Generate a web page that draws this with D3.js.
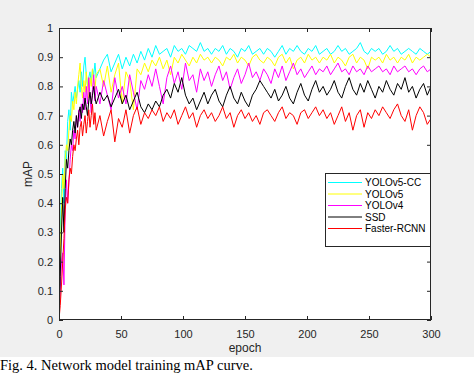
<!DOCTYPE html>
<html>
<head>
<meta charset="utf-8">
<script src="https://cdn.jsdelivr.net/npm/d3@7"></script>
<style>
  body { margin: 0; background: #fff; }
  svg { display: block; }
</style>
</head>
<body>
<div id="chart"></div>
<script>
// epochs sampled: every epoch up to 30, then every 3rd
const epochs = d3.range(0, 31).concat(d3.range(33, 301, 3));

const yolov5cc = [
  0.02,0.30,0.45,0.52,0.40,0.58,0.55,0.68,0.72,0.65,0.78,0.74,0.77,0.80,0.76,0.79,0.82,0.78,0.85,0.80,0.87,0.90,0.84,0.80,0.83,0.85,0.81,0.86,0.84,0.88,0.83,
  0.86,0.89,0.91,0.85,0.88,0.91,0.86,0.90,0.87,0.91,0.88,0.92,0.89,0.93,0.90,
  0.94,0.91,0.92,0.93,0.90,0.94,0.92,0.93,0.91,0.94,0.93,0.92,0.95,0.92,0.93,
  0.91,0.93,0.92,0.94,0.91,0.93,0.92,0.90,0.93,0.92,0.94,0.91,0.92,0.93,0.91,
  0.93,0.92,0.90,0.92,0.94,0.91,0.93,0.92,0.94,0.92,0.91,0.93,0.92,0.94,0.91,
  0.92,0.93,0.91,0.92,0.94,0.92,0.93,0.91,0.92,0.93,0.95,0.92,0.91,0.93,0.92,
  0.93,0.91,0.92,0.94,0.92,0.93,0.91,0.92,0.93,0.92,0.91,0.93,0.92,0.91,0.92
];
const yolov5 = [
  0.00,0.22,0.38,0.50,0.45,0.55,0.60,0.58,0.65,0.70,0.68,0.75,0.72,0.78,0.74,0.80,0.84,0.88,0.80,0.76,0.82,0.78,0.85,0.80,0.76,0.83,0.80,0.86,0.82,0.79,0.84,
  0.86,0.80,0.87,0.78,0.84,0.88,0.74,0.85,0.82,0.72,0.86,0.84,0.88,0.85,0.89,
  0.87,0.90,0.86,0.89,0.84,0.90,0.88,0.91,0.89,0.87,0.90,0.88,0.91,0.89,0.90,
  0.88,0.90,0.89,0.87,0.90,0.89,0.91,0.88,0.90,0.89,0.87,0.90,0.91,0.89,0.88,
  0.90,0.89,0.87,0.90,0.91,0.88,0.90,0.86,0.89,0.90,0.88,0.91,0.89,0.90,0.88,
  0.90,0.89,0.91,0.88,0.90,0.89,0.87,0.90,0.91,0.88,0.90,0.89,0.86,0.90,0.89,
  0.90,0.88,0.91,0.89,0.90,0.88,0.90,0.89,0.91,0.88,0.90,0.89,0.90,0.91,0.90
];
const yolov4 = [
  0.00,0.10,0.20,0.23,0.12,0.38,0.48,0.40,0.47,0.55,0.60,0.58,0.65,0.62,0.70,0.66,0.72,0.68,0.74,0.71,0.78,0.72,0.80,0.74,0.83,0.76,0.71,0.79,0.84,0.75,0.80,
  0.74,0.82,0.77,0.72,0.83,0.76,0.80,0.74,0.84,0.78,0.72,0.82,0.79,0.84,0.80,
  0.86,0.80,0.74,0.83,0.87,0.81,0.85,0.79,0.88,0.82,0.84,0.78,0.86,0.82,0.85,
  0.80,0.84,0.87,0.82,0.85,0.79,0.83,0.86,0.81,0.84,0.88,0.83,0.85,0.82,0.86,
  0.84,0.81,0.86,0.83,0.87,0.82,0.85,0.88,0.84,0.86,0.83,0.85,0.87,0.84,0.86,
  0.85,0.87,0.84,0.86,0.88,0.85,0.86,0.84,0.87,0.85,0.86,0.84,0.87,0.85,0.86,
  0.87,0.85,0.86,0.84,0.87,0.85,0.86,0.87,0.85,0.86,0.84,0.86,0.87,0.85,0.86
];
const ssd = [
  0.00,0.15,0.30,0.42,0.30,0.45,0.55,0.52,0.58,0.62,0.60,0.65,0.68,0.64,0.70,0.66,0.71,0.73,0.69,0.74,0.72,0.76,0.73,0.70,0.75,0.78,0.74,0.77,0.80,0.76,0.74,
  0.78,0.75,0.77,0.73,0.76,0.79,0.74,0.77,0.72,0.75,0.78,0.73,0.71,0.74,0.72,
  0.75,0.73,0.77,0.79,0.76,0.81,0.78,0.83,0.77,0.74,0.76,0.72,0.75,0.78,0.74,
  0.77,0.79,0.75,0.73,0.77,0.80,0.76,0.74,0.78,0.75,0.73,0.77,0.79,0.82,0.80,
  0.78,0.76,0.79,0.75,0.77,0.80,0.76,0.74,0.78,0.81,0.77,0.75,0.79,0.82,0.78,
  0.80,0.77,0.79,0.82,0.78,0.76,0.80,0.83,0.79,0.77,0.81,0.78,0.82,0.79,0.76,
  0.80,0.78,0.82,0.79,0.77,0.81,0.79,0.83,0.78,0.80,0.76,0.79,0.81,0.77,0.80
];
const fasterRcnn = [
  0.00,0.05,0.12,0.20,0.28,0.38,0.42,0.40,0.48,0.52,0.50,0.56,0.60,0.58,0.62,0.65,0.60,0.66,0.68,0.63,0.67,0.70,0.64,0.68,0.72,0.66,0.70,0.74,0.67,0.71,0.65,
  0.70,0.63,0.68,0.72,0.61,0.69,0.66,0.72,0.64,0.70,0.73,0.67,0.71,0.69,0.72,
  0.70,0.73,0.68,0.71,0.69,0.72,0.67,0.70,0.73,0.69,0.71,0.66,0.70,0.72,0.69,
  0.71,0.68,0.70,0.73,0.69,0.71,0.66,0.70,0.72,0.69,0.71,0.68,0.70,0.67,0.71,
  0.72,0.70,0.68,0.71,0.73,0.69,0.71,0.70,0.67,0.71,0.72,0.69,0.71,0.73,0.70,
  0.72,0.69,0.71,0.67,0.70,0.73,0.68,0.71,0.65,0.70,0.72,0.66,0.71,0.69,0.72,
  0.70,0.73,0.71,0.69,0.72,0.74,0.70,0.68,0.72,0.65,0.70,0.73,0.71,0.67,0.69
];

const seriesNames = ["YOLOv5-CC", "YOLOv5", "YOLOv4", "SSD", "Faster-RCNN"];
const seriesColors = ["#00ffff", "#ffff00", "#ff00ff", "#000000", "#ff0000"];
const seriesValues = [yolov5cc, yolov5, yolov4, ssd, fasterRcnn];
const xTicks = [0, 50, 100, 150, 200, 250, 300];
const yTicks = [0, 0.1, 0.2, 0.3, 0.4, 0.5, 0.6, 0.7, 0.8, 0.9, 1];

const width = 474, height = 374;
const plotLeft = 59, plotRight = 431, plotTop = 28, plotBottom = 320;
const axisColor = "#262626";
const font = "'Liberation Sans', Arial, sans-serif";

const svg = d3.select("#chart").append("svg")
  .attr("width", width)
  .attr("height", height);

// figure background
svg.append("rect")
  .attr("width", width).attr("height", 357)
  .attr("fill", "#f0f0f0");
svg.append("rect")
  .attr("x", plotLeft).attr("y", plotTop)
  .attr("width", plotRight - plotLeft).attr("height", plotBottom - plotTop)
  .attr("fill", "#fff");

const x = d3.scaleLinear().domain([0, 300]).range([plotLeft, plotRight]);
const y = d3.scaleLinear().domain([0, 1]).range([plotBottom, plotTop]);

svg.append("clipPath").attr("id", "plot-clip")
  .append("rect")
  .attr("x", plotLeft).attr("y", plotTop)
  .attr("width", plotRight - plotLeft).attr("height", plotBottom - plotTop);

const line = d3.line()
  .x((d, i) => x(epochs[i]))
  .y(d => y(d));

svg.append("g")
  .attr("clip-path", "url(#plot-clip)")
  .selectAll("path")
  .data(seriesValues)
  .join("path")
    .attr("fill", "none")
    .attr("stroke", (d, i) => seriesColors[i])
    .attr("stroke-width", 1)
    .attr("stroke-linejoin", "round")
    .attr("d", line);

const styleAxis = g => {
  g.select(".domain").remove();
  g.selectAll("line").attr("stroke", axisColor);
  g.selectAll("text")
    .attr("fill", axisColor)
    .attr("font-family", font)
    .attr("font-size", 11);
};

svg.append("g")
  .attr("transform", `translate(0,${plotBottom})`)
  .call(d3.axisBottom(x).tickValues(xTicks).tickSizeInner(-4).tickSizeOuter(0).tickPadding(10))
  .call(styleAxis);
svg.append("g")
  .attr("transform", `translate(0,${plotTop})`)
  .call(d3.axisTop(x).tickValues(xTicks).tickSizeInner(-4).tickSizeOuter(0).tickFormat(""))
  .call(styleAxis);
svg.append("g")
  .attr("transform", `translate(${plotLeft},0)`)
  .call(d3.axisLeft(y).tickValues(yTicks).tickSizeInner(-4).tickSizeOuter(0).tickPadding(6)
    .tickFormat(d => d3.format("")(+d.toFixed(1))))
  .call(styleAxis);
svg.append("g")
  .attr("transform", `translate(${plotRight},0)`)
  .call(d3.axisRight(y).tickValues(yTicks).tickSizeInner(-4).tickSizeOuter(0).tickFormat(""))
  .call(styleAxis);

// axes box
svg.append("rect")
  .attr("x", plotLeft + 0.5).attr("y", plotTop + 0.5)
  .attr("width", plotRight - plotLeft - 1).attr("height", plotBottom - plotTop - 1)
  .attr("fill", "none")
  .attr("stroke", axisColor);

svg.append("text")
  .attr("x", (plotLeft + plotRight) / 2).attr("y", 352)
  .attr("text-anchor", "middle")
  .attr("font-family", font).attr("font-size", 12)
  .attr("fill", axisColor)
  .text("epoch");

svg.append("text")
  .attr("transform", `translate(32,${(plotTop + plotBottom) / 2}) rotate(-90)`)
  .attr("text-anchor", "middle")
  .attr("font-family", font).attr("font-size", 12)
  .attr("fill", axisColor)
  .text("mAP");

// legend
const legend = svg.append("g");
legend.append("rect")
  .attr("x", 325.5).attr("y", 173.5)
  .attr("width", 105).attr("height", 73)
  .attr("fill", "#fff")
  .attr("stroke", axisColor);
const rows = legend.selectAll("g.row")
  .data(seriesNames)
  .join("g")
    .attr("class", "row")
    .attr("transform", (d, i) => `translate(0,${182.5 + i * 11.5})`);
rows.append("line")
  .attr("x1", 328).attr("x2", 362)
  .attr("stroke", (d, i) => seriesColors[i])
  .attr("stroke-width", 1);
rows.append("text")
  .attr("x", 365).attr("dy", "0.35em")
  .attr("font-family", font).attr("font-size", 10)
  .attr("fill", "#000")
  .text(d => d);

// caption
svg.append("text")
  .attr("x", 0).attr("y", 370)
  .attr("font-family", "'Liberation Serif', 'Times New Roman', serif")
  .attr("font-size", 14.5)
  .attr("fill", "#000")
  .text("Fig. 4. Network model training mAP curve.");
</script>
</body>
</html>
